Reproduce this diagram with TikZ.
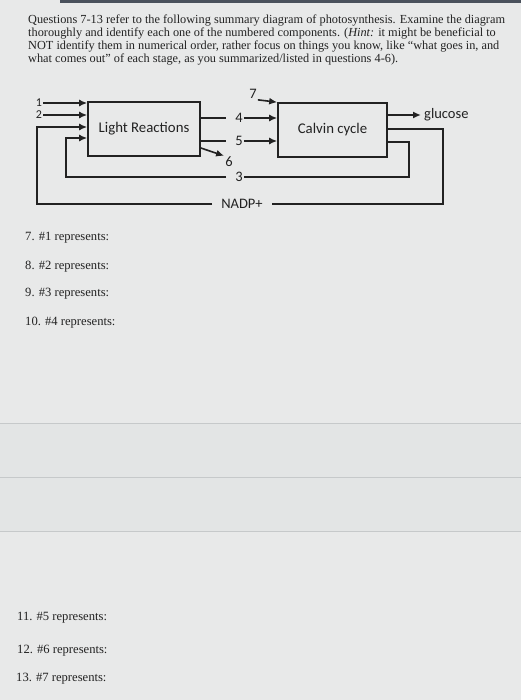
\documentclass[tikz,border=0pt]{standalone}
\usepackage{fontspec}
\setmainfont{Liberation Serif}
\newfontfamily\diagfont{Carlito}
\usepackage{tikz}
\usetikzlibrary{arrows,arrows.meta,calc,positioning}
\definecolor{pagebg}{HTML}{E8E9E9}
\definecolor{bandbg}{HTML}{E3E5E5}
\definecolor{rulegray}{HTML}{C6C9CA}
\definecolor{topbar}{HTML}{4A515C}
\definecolor{ink}{HTML}{222222}

\begin{document}
\begin{tikzpicture}[
    x=1pt, y=-1pt,
    auto,
    stage/.style={draw=ink, line width=1.6pt, inner sep=0, minimum height=54pt,
        text=ink, font=\diagfont\fontsize{14.8}{16}\selectfont},
    lbl/.style={inner sep=1pt, text=ink, font=\diagfont\fontsize{14.5}{16}\selectfont},
    smalllbl/.style={lbl, font=\diagfont\fontsize{12}{14}\selectfont},
    flow/.style={draw=ink, line width=1.6pt},
    arr/.style={flow, -{Latex[length=8pt,width=7pt]}},
    tolabel/.style={flow, shorten >=8pt},
    question/.style={anchor=west, inner sep=0, text=ink, font=\fontsize{12.6}{15}\selectfont}]

% page
\useasboundingbox (0,0) rectangle (521,700);
\fill[pagebg] (0,0) rectangle (521,700);
\fill[bandbg] (0,423) rectangle (521,531);
\fill[topbar] (60,0) rectangle (521,3.5);
\foreach \y in {423,477,531}
    \path[draw, rulegray, line width=0.8pt] (0,\y) -- (521,\y);

% instructions
\node[anchor=north west, inner sep=0, align=left, text=ink,
      font=\fontsize{12.3}{12.8}\selectfont] (intro) at (28,15)
  {Questions 7-13 refer to the following summary diagram of photosynthesis. Examine the diagram\\
   thoroughly and identify each one of the numbered components. (\textit{Hint:} it might be beneficial to\\
   NOT identify them in numerical order, rather focus on things you know, like ``what goes in, and\\
   what comes out'' of each stage, as you summarized/listed in questions 4-6).};

% stages
\node[stage, minimum width=112pt] (LR) at (144,129) {Light Reactions};
\node[stage, minimum width=109pt] (CC) at (332.5,130) {Calvin cycle};

% numbered labels
\node[smalllbl] (in1) at (39,103) {1};
\node[smalllbl] (in2) at (39,115) {2};
\node[lbl] (out4) at (239,118) {4};
\node[lbl] (out5) at (239,141) {5};
\node[lbl] (out6) at (229,162) {6};
\node[lbl] (out3) at (239,177) {3};
\node[lbl] (nadp) at (242,204) {NADP+};
\node[lbl] (in7) at (253,94) {7};
\node[lbl, anchor=west] (gluc) at (423,115) {glucose};

\coordinate (turn3) at (409,177);
\coordinate (back3) at (66,177);
\coordinate (turnN) at (443,204);
\coordinate (backN) at (37,204);

% into the light reactions
\path[draw, arr] (in1.east) -- (in1 -| LR.west);
\path[draw, arr] (in2.east) -- (in2 -| LR.west);

% light reactions -> calvin cycle
\path[draw, tolabel] (LR.east |- out4) -- (out4.west);
\path[draw, arr] (out4.east) -- (out4 -| CC.west);
\path[draw, tolabel] (LR.east |- out5) -- (out5.west);
\path[draw, arr] (out5.east) -- (out5 -| CC.west);
\path[draw, arr] ($(LR.east)+(0,19)$) -- (out6.north west);
\path[draw, arr] (in7.south east) -- (CC.north west);
\path[draw, arr] (CC.east |- gluc) -- ([xshift=-2pt]gluc.west);

% returns
\path[draw, flow] ($(CC.east)+(0,12)$) -| (turn3) -- (out3.east);
\path[draw, arr] ([xshift=-8pt]out3.west) -- (back3) |- ($(LR.west)+(0,9)$);
\path[draw, flow] ($(CC.east)+(0,-1)$) -| (turnN) -- ([xshift=8pt]nadp.east);
\path[draw, arr] ([xshift=-8pt]nadp.west) -- (backN) |- ($(LR.west)+(0,-2)$);

% questions
\foreach \n/\k/\x/\y in {7/1/25/238, 8/2/25/267, 9/3/25/294, 10/4/25/323,
                         11/5/17/618, 12/6/17/651, 13/7/16/679}
    \node[question] (q\n) at (\x,\y) {\n. \#\k\ represents:};

\end{tikzpicture}
\end{document}
